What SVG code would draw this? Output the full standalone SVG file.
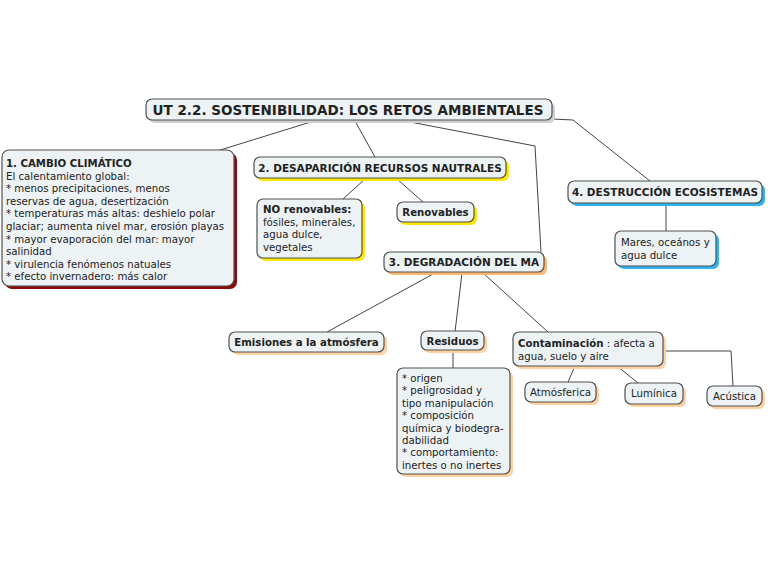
<svg xmlns="http://www.w3.org/2000/svg" width="768" height="578" viewBox="0 0 768 578">
<style>
.box{fill:#edf2f4;stroke:#505050;stroke-width:1.2}
.t{font-family:"DejaVu Sans",Verdana,sans-serif;font-size:10.2px;fill:#222}
.b{font-weight:bold}
.h{font-family:"DejaVu Sans",Verdana,sans-serif;font-size:10.5px;font-weight:bold;fill:#222}
.c{fill:none;stroke:#444;stroke-width:1}
</style>
<rect width="768" height="578" fill="#fff"/>
<g id="connectors">
<polyline class="c" points="314,121 217,151"/>
<polyline class="c" points="355,121 375,157"/>
<polyline class="c" points="405,121 535,146 541,252"/>
<polyline class="c" points="552,119 573,120 650,181"/>
<polyline class="c" points="365,179 343,199"/>
<polyline class="c" points="397,179 423,202"/>
<polyline class="c" points="666,203 666,231"/>
<polyline class="c" points="435,273 327,332"/>
<polyline class="c" points="462,273 455,332"/>
<polyline class="c" points="483,273 548,332"/>
<polyline class="c" points="453,351 453,368"/>
<polyline class="c" points="575,366 568,382"/>
<polyline class="c" points="617,366 638,383"/>
<polyline class="c" points="663,351 731,351 733,386"/>
</g>
<g id="title">
<rect x="149" y="102" width="406" height="21" rx="6" fill="#cfcfcf"/>
<rect class="box" x="146" y="99" width="406" height="21" rx="6"/>
<text class="h" x="348" y="115" text-anchor="middle" style="font-size:13.5px">UT 2.2. SOSTENIBILIDAD: LOS RETOS AMBIENTALES</text>
</g>
<g id="n1">
<rect x="5" y="153" width="232" height="136" rx="7" fill="#8b0a0a"/>
<rect class="box" x="2" y="150" width="232" height="136" rx="7"/>
<text class="t" x="6" y="167"><tspan class="b">1. CAMBIO CLIMÁTICO</tspan><tspan x="6" dy="12.6">El calentamiento global:</tspan><tspan x="6" dy="12.6">* menos precipitaciones, menos</tspan><tspan x="6" dy="12.6">reservas de agua, desertización</tspan><tspan x="6" dy="12.6">* temperaturas más altas: deshielo polar</tspan><tspan x="6" dy="12.6">glaciar; aumenta nivel mar, erosión playas</tspan><tspan x="6" dy="12.6">* mayor evaporación del mar: mayor</tspan><tspan x="6" dy="12.6">salinidad</tspan><tspan x="6" dy="12.6">* virulencia fenómenos natuales</tspan><tspan x="6" dy="12.6">* efecto invernadero: más calor</tspan></text>
</g>
<g id="n2">
<rect x="257" y="160" width="252" height="21" rx="6" fill="#ffe600"/>
<rect class="box" x="254" y="157" width="252" height="21" rx="6"/>
<text class="h" x="380" y="172" text-anchor="middle">2. DESAPARICIÓN RECURSOS NAUTRALES</text>
</g>
<g id="n2a">
<rect x="260" y="202" width="105" height="59" rx="6" fill="#ffe600"/>
<rect class="box" x="257" y="199" width="105" height="59" rx="6"/>
<text class="t" x="263" y="213"><tspan class="b">NO renovables:</tspan><tspan x="263" dy="12.6">fósiles, minerales,</tspan><tspan x="263" dy="12.6">agua dulce,</tspan><tspan x="263" dy="12.6">vegetales</tspan></text>
</g>
<g id="n2b">
<rect x="400" y="205" width="77" height="20" rx="6" fill="#ffe600"/>
<rect class="box" x="397" y="202" width="77" height="20" rx="6"/>
<text class="h" x="435.5" y="216" text-anchor="middle" style="font-size:10.2px">Renovables</text>
</g>
<g id="n3">
<rect x="387" y="255" width="160" height="20" rx="6" fill="#ffb870"/>
<rect class="box" x="384" y="252" width="160" height="20" rx="6"/>
<text class="h" x="464" y="266" text-anchor="middle">3. DEGRADACIÓN DEL MA</text>
</g>
<g id="n3a">
<rect x="232" y="335" width="155" height="20" rx="6" fill="#ffd0a0"/>
<rect class="box" x="229" y="332" width="155" height="20" rx="6"/>
<text class="h" x="306.5" y="346" text-anchor="middle" style="font-size:10.2px">Emisiones a la atmósfera</text>
</g>
<g id="n3b">
<rect x="424" y="334" width="63" height="19" rx="6" fill="#ffd0a0"/>
<rect class="box" x="421" y="331" width="63" height="19" rx="6"/>
<text class="h" x="452.5" y="345" text-anchor="middle" style="font-size:10.2px">Residuos</text>
</g>
<g id="n3b1">
<rect x="400" y="371" width="113" height="106" rx="6" fill="#ffd0a0"/>
<rect class="box" x="397" y="368" width="113" height="106" rx="6"/>
<text class="t" x="402" y="382"><tspan>* origen</tspan><tspan x="402" dy="12.4">* peligrosidad y</tspan><tspan x="402" dy="12.4">tipo manipulación</tspan><tspan x="402" dy="12.4">* composición</tspan><tspan x="402" dy="12.4">química y biodegra-</tspan><tspan x="402" dy="12.4">dabilidad</tspan><tspan x="402" dy="12.4">* comportamiento:</tspan><tspan x="402" dy="12.4">inertes o no inertes</tspan></text>
</g>
<g id="n3c">
<rect x="516" y="335" width="150" height="34" rx="6" fill="#ffd0a0"/>
<rect class="box" x="513" y="332" width="150" height="34" rx="6"/>
<text class="t" x="518" y="347"><tspan class="b">Contaminación</tspan><tspan> : afecta a</tspan><tspan x="518" dy="12.6">agua, suelo y aire</tspan></text>
</g>
<g id="n3c1">
<rect x="528" y="385" width="71" height="20" rx="6" fill="#ffd0a0"/>
<rect class="box" x="525" y="382" width="71" height="20" rx="6"/>
<text class="t" x="560.5" y="396" text-anchor="middle">Atmósferica</text>
</g>
<g id="n3c2">
<rect x="628" y="386" width="58" height="21" rx="6" fill="#ffd0a0"/>
<rect class="box" x="625" y="383" width="58" height="21" rx="6"/>
<text class="t" x="654" y="397" text-anchor="middle">Lumínica</text>
</g>
<g id="n3c3">
<rect x="710" y="389" width="55" height="20" rx="6" fill="#ffd0a0"/>
<rect class="box" x="707" y="386" width="55" height="20" rx="6"/>
<text class="t" x="734.5" y="400" text-anchor="middle">Acústica</text>
</g>
<g id="n4">
<rect x="571" y="184" width="194" height="22" rx="6" fill="#2eb4f0"/>
<rect class="box" x="568" y="181" width="194" height="22" rx="6"/>
<text class="h" x="665" y="196" text-anchor="middle">4. DESTRUCCIÓN ECOSISTEMAS</text>
</g>
<g id="n4a">
<rect x="618" y="234" width="101" height="35" rx="6" fill="#2eb4f0"/>
<rect class="box" x="615" y="231" width="101" height="35" rx="6"/>
<text class="t" x="621" y="246"><tspan>Mares, oceános y</tspan><tspan x="621" dy="12.6">agua dulce</tspan></text>
</g>
</svg>
